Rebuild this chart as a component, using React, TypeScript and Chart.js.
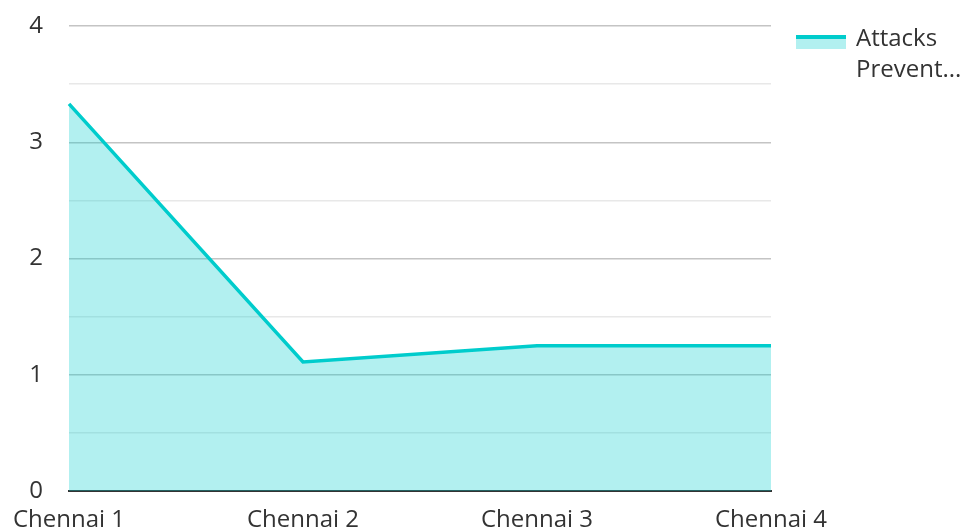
import React, { useEffect, useRef } from "react";
import { Chart, registerables } from "chart.js";

Chart.register(...registerables);

const categories = ["Chennai 1", "Chennai 2", "Chennai 3", "Chennai 4"];
const attacksPrevented = [3.33, 1.11, 1.25, 1.25];
const seriesLabel = "Attacks Prevented";
const legendLines = ["Attacks", "Prevent..."];

const LINE = "#00cccc";
const FILL = "rgba(0, 204, 204, 0.3)";
const FONT = "'Open Sans', 'Noto Sans', sans-serif";

export default function App() {
  const ref = useRef<HTMLCanvasElement>(null);
  useEffect(() => {
    const chart = new Chart(ref.current!, {
      type: "line",
      data: {
        labels: categories,
        datasets: [
          {
            label: seriesLabel,
            data: attacksPrevented,
            borderColor: LINE,
            backgroundColor: FILL,
            borderWidth: 3.5,
            fill: "origin",
            pointRadius: 0,
            tension: 0,
          },
        ],
      },
      options: {
        animation: false,
        responsive: false,
        maintainAspectRatio: false,
        layout: { padding: { top: 26, right: 192, left: 0, bottom: 0 } },
        plugins: { legend: { display: false }, tooltip: { enabled: false } },
        scales: {
          x: {
            offset: false,
            grid: { display: false },
            border: { display: true, color: "#333333", width: 2 },
            afterFit: (s: any) => { s.height = 40; },
            ticks: { color: "#333333", font: { family: FONT, size: 24 }, padding: 7, maxRotation: 0, autoSkip: false },
          },
          y: {
            min: 0,
            max: 4,
            afterFit: (s: any) => { s.width = 69; s.paddingTop = 0; s.paddingBottom = 0; },
            ticks: {
              stepSize: 0.5,
              color: "#333333",
              font: { family: FONT, size: 24 },
              padding: 26,
              callback: (v: any) => (Number.isInteger(v) ? String(v) : ""),
            },
            grid: {
              drawTicks: false,
              color: (ctx: any) => (Number.isInteger(ctx.tick?.value) ? "#c4c4c4" : "#e8e8e8"),
              lineWidth: 1.5,
            },
            border: { display: false },
          },
        },
      },
    });
    return () => chart.destroy();
  }, []);
  return (
    <div style={{ position: "fixed", left: 0, top: 0, width: 963, height: 531, background: "#fff" }}>
      <canvas ref={ref} width={963} height={531} style={{ width: 963, height: 531 }} />
      <div style={{ position: "absolute", left: 796, top: 35, width: 50, height: 14, boxSizing: "border-box", borderTop: `4px solid ${LINE}`, background: FILL }} />
      <div style={{ position: "absolute", left: 856, top: 21, fontFamily: FONT, fontSize: 24, lineHeight: "31px", color: "#333333" }}>
        {legendLines.map((l) => (
          <div key={l}>{l}</div>
        ))}
      </div>
    </div>
  );
}
